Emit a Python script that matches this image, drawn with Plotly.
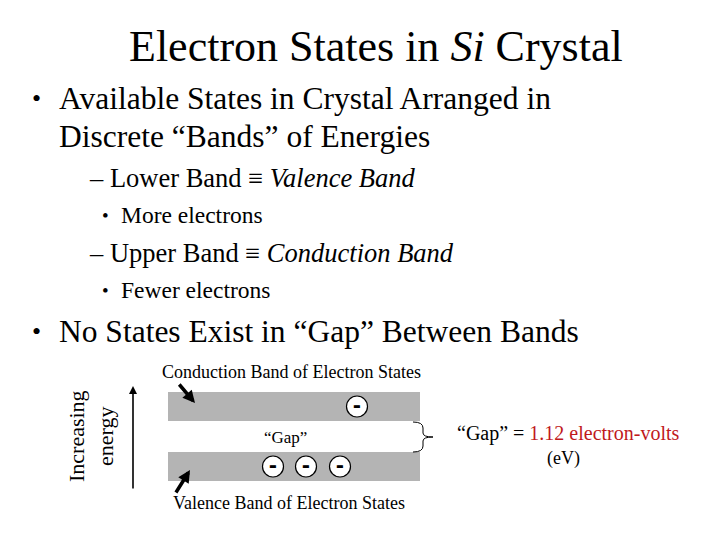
import plotly.graph_objects as go

# slide text
title_text = "Electron States in <i>Si</i> Crystal"
bullet_lines = [
    "Available States in Crystal Arranged in",
    "Discrete “Bands” of Energies",
]
sub_lines = [
    "– Lower Band ≡ <i>Valence Band</i>",
    "– Upper Band ≡ <i>Conduction Band</i>",
]
subsub_lines = ["More electrons", "Fewer electrons"]
last_bullet = "No States Exist in “Gap” Between Bands"

# band diagram labels
band_labels = ["Conduction Band of Electron States", "Valence Band of Electron States"]
axis_label = "Increasing<br>energy"
gap_label = "“Gap”"
gap_value = "1.12 electron-volts"
gap_unit = "(eV)"

# electrons sitting in each band (x position along band)
conduction_electrons = [357]
valence_electrons = [273, 306, 340]

FONT = "Liberation Serif, Times New Roman, serif"
RED = "#c0191b"

fig = go.Figure()

# bands
band_x0, band_x1 = 168, 420
cond_y = (392, 421)
val_y = (452, 481)
for y0, y1 in (cond_y, val_y):
    fig.add_shape(type="rect", x0=band_x0, x1=band_x1, y0=y0, y1=y1,
                  fillcolor="#b4b4b4", line_width=0, layer="below")

# electrons
ex = conduction_electrons + valence_electrons
ey = [406.5] * len(conduction_electrons) + [466.5] * len(valence_electrons)
fig.add_trace(go.Scatter(
    x=ex, y=ey, mode="markers+text",
    marker=dict(symbol="circle", size=21, color="white",
                line=dict(color="black", width=1.2)),
    text=["<b>-</b>"] * len(ex), textposition="middle center",
    textfont=dict(family="DejaVu Sans", size=20, color="black"),
    hoverinfo="skip", showlegend=False,
))

# brace on the right of the gap
fig.add_shape(type="path",
              path="M 413,422 Q 423,422 423,428 L 423,433 Q 423,437 433,437 "
                   "Q 423,437 423,441 L 423,446 Q 423,452 413,452",
              line=dict(color="black", width=1))

ann = []
ann.append(dict(x=376, y=46, text=title_text, font=dict(size=44)))

y_rows = [98, 136]
for i, line in enumerate(bullet_lines):
    ann.append(dict(x=57, y=y_rows[i], text=line, xanchor="left", font=dict(size=31.5)))
ann.append(dict(x=36, y=98, text="•", font=dict(size=26)))

sub_y = [178, 253]
subsub_y = [215, 290]
for i in range(2):
    ann.append(dict(x=87, y=sub_y[i], text=sub_lines[i], xanchor="left", font=dict(size=26.5)))
    ann.append(dict(x=105, y=subsub_y[i], text="•", font=dict(size=19)))
    ann.append(dict(x=119, y=subsub_y[i], text=subsub_lines[i], xanchor="left", font=dict(size=23.5)))

ann.append(dict(x=36, y=331, text="•", font=dict(size=26)))
ann.append(dict(x=57, y=331, text=last_bullet, xanchor="left", font=dict(size=31.5)))

ann.append(dict(x=291, y=372, text=band_labels[0], font=dict(size=18)))
ann.append(dict(x=289, y=503, text=band_labels[1], font=dict(size=18)))
ann.append(dict(x=285, y=437, text=gap_label, font=dict(size=17)))
ann.append(dict(x=91, y=436, text=axis_label, textangle=-90, font=dict(size=22)))
ann.append(dict(x=455, y=433, xanchor="left",
                text=f"“Gap” = <span style='color:{RED}'>{gap_value}</span>",
                font=dict(size=20)))
ann.append(dict(x=563, y=458, text=gap_unit, font=dict(size=18)))

for a in ann:
    a.setdefault("xanchor", "center")
    a.update(xref="x", yref="y", showarrow=False, yanchor="middle")
    a["font"].setdefault("family", FONT)
    a["font"].setdefault("color", "black")
    fig.add_annotation(**a)

# arrows
arrows = [
    (133, 490, 133, 386, 1.6, 1),   # increasing energy
    (178, 383, 195, 403, 3.5, 0.7),  # to conduction band
    (175, 494, 190, 470, 3.5, 0.7),  # to valence band
]
for tx, ty, hx, hy, w, hs in arrows:
    fig.add_annotation(x=hx, y=hy, ax=tx, ay=ty, xref="x", yref="y",
                       axref="x", ayref="y", text="", showarrow=True,
                       arrowhead=2, arrowsize=hs, arrowwidth=w, arrowcolor="black")

# page body has an 8px margin, so offset the axes to keep page pixels = data units
fig.update_layout(
    width=720, height=540,
    margin=dict(l=0, r=0, t=0, b=0),
    paper_bgcolor="white", plot_bgcolor="white",
    xaxis=dict(range=[8, 728], visible=False, fixedrange=True),
    yaxis=dict(range=[548, 8], visible=False, fixedrange=True),
    showlegend=False,
)

fig.write_html("out.html")
